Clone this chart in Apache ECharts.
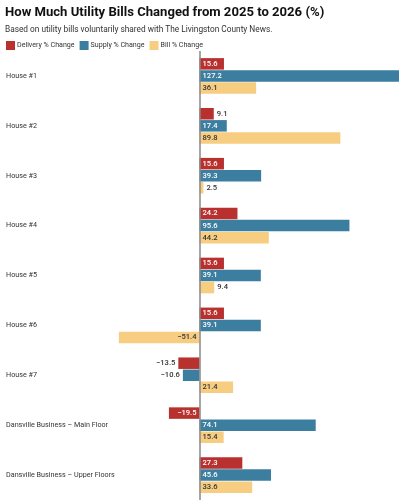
<!DOCTYPE html>
<html><head><meta charset="utf-8">
<script src="https://cdn.jsdelivr.net/npm/echarts@6/dist/echarts.min.js"></script>
<style>html,body{margin:0;padding:0;background:#fff}#c{width:401px;height:500px}</style>
</head><body><div id="c"></div>
<script>
const categories = ["House #1","House #2","House #3","House #4","House #5","House #6","House #7","Dansville Business – Main Floor","Dansville Business – Upper Floors"];
const delivery = [15.6, 9.1, 15.6, 24.2, 15.6, 15.6, -13.5, -19.5, 27.3];
const supply = [127.2, 17.4, 39.3, 95.6, 39.1, 39.1, -10.6, 74.1, 45.6];
const bill = [36.1, 89.8, 2.5, 44.2, 9.4, -51.4, 21.4, 15.4, 33.6];
const seriesNames = ["Delivery % Change","Supply % Change","Bill % Change"];
const colors = ["#b8312e","#3c7ea0","#f7cd82"];
const insideText = ["#ffffff","#ffffff","#333333"];
const FONT = "Roboto, 'Noto Sans', sans-serif";

function items(vals, si){
  return vals.map(v=>{
    const small = Math.abs(v) < 15;
    let pos;
    if (v >= 0) { pos = small ? 'right' : 'insideLeft'; }
    else { pos = small ? 'left' : 'insideRight'; }
    const col = small ? '#333333' : insideText[si];
    return {value:v, label:{position:pos, color:col}};
  });
}
const all = [delivery, supply, bill];
const chart = echarts.init(document.getElementById('c'), null, {renderer:'canvas'});
chart.setOption({
  animation:false,
  textStyle:{fontFamily:FONT},
  title:{
    text:"How Much Utility Bills Changed from 2025 to 2026 (%)",
    subtext:"Based on utility bills voluntarily shared with The Livingston County News.",
    left:5, top:5, padding:0, itemGap:4,
    textStyle:{fontSize:13.1, lineHeight:16, fontWeight:'bold', color:'#111', fontFamily:FONT},
    subtextStyle:{fontSize:8.3, lineHeight:10, color:'#333', fontFamily:FONT}
  },
  legend:{
    left:6, top:41, padding:0, itemWidth:9, itemHeight:9, itemGap:5, icon:'rect',
    textStyle:{fontSize:7.1, color:'#333', fontFamily:FONT, padding:[0,0,0,-3]},
    data:seriesNames
  },
  grid:{left:0, right:2, top:51, height:452.5, containLabel:false},
  xAxis:{type:'value', min:-127.2, max:127.2, show:false},
  yAxis:{type:'category', data:categories, inverse:true,
    axisLine:{show:false}, axisTick:{show:false}, splitLine:{show:false},
    axisLabel:{inside:true, margin:6, fontSize:7.2, color:'#333', fontFamily:FONT}},
  series: all.map((vals,i)=>({
    name:seriesNames[i], type:'bar', data:items(vals,i),
    barWidth:11.5, barGap:'5%',
    itemStyle:{color:colors[i]},
    label:{show:true, fontSize:7.6, fontWeight:500, distance:3, fontFamily:FONT,
      formatter:p=>{const v=p.value; return (v<0?'\u2212'+Math.abs(v).toFixed(1):v.toFixed(1));}},
    markLine: i===0 ? {silent:true, symbol:'none', label:{show:false},
      lineStyle:{color:'#888', width:1.5, type:'solid'}, data:[{xAxis:0}]} : undefined,
    z: 2
  }))
});
</script></body></html>
